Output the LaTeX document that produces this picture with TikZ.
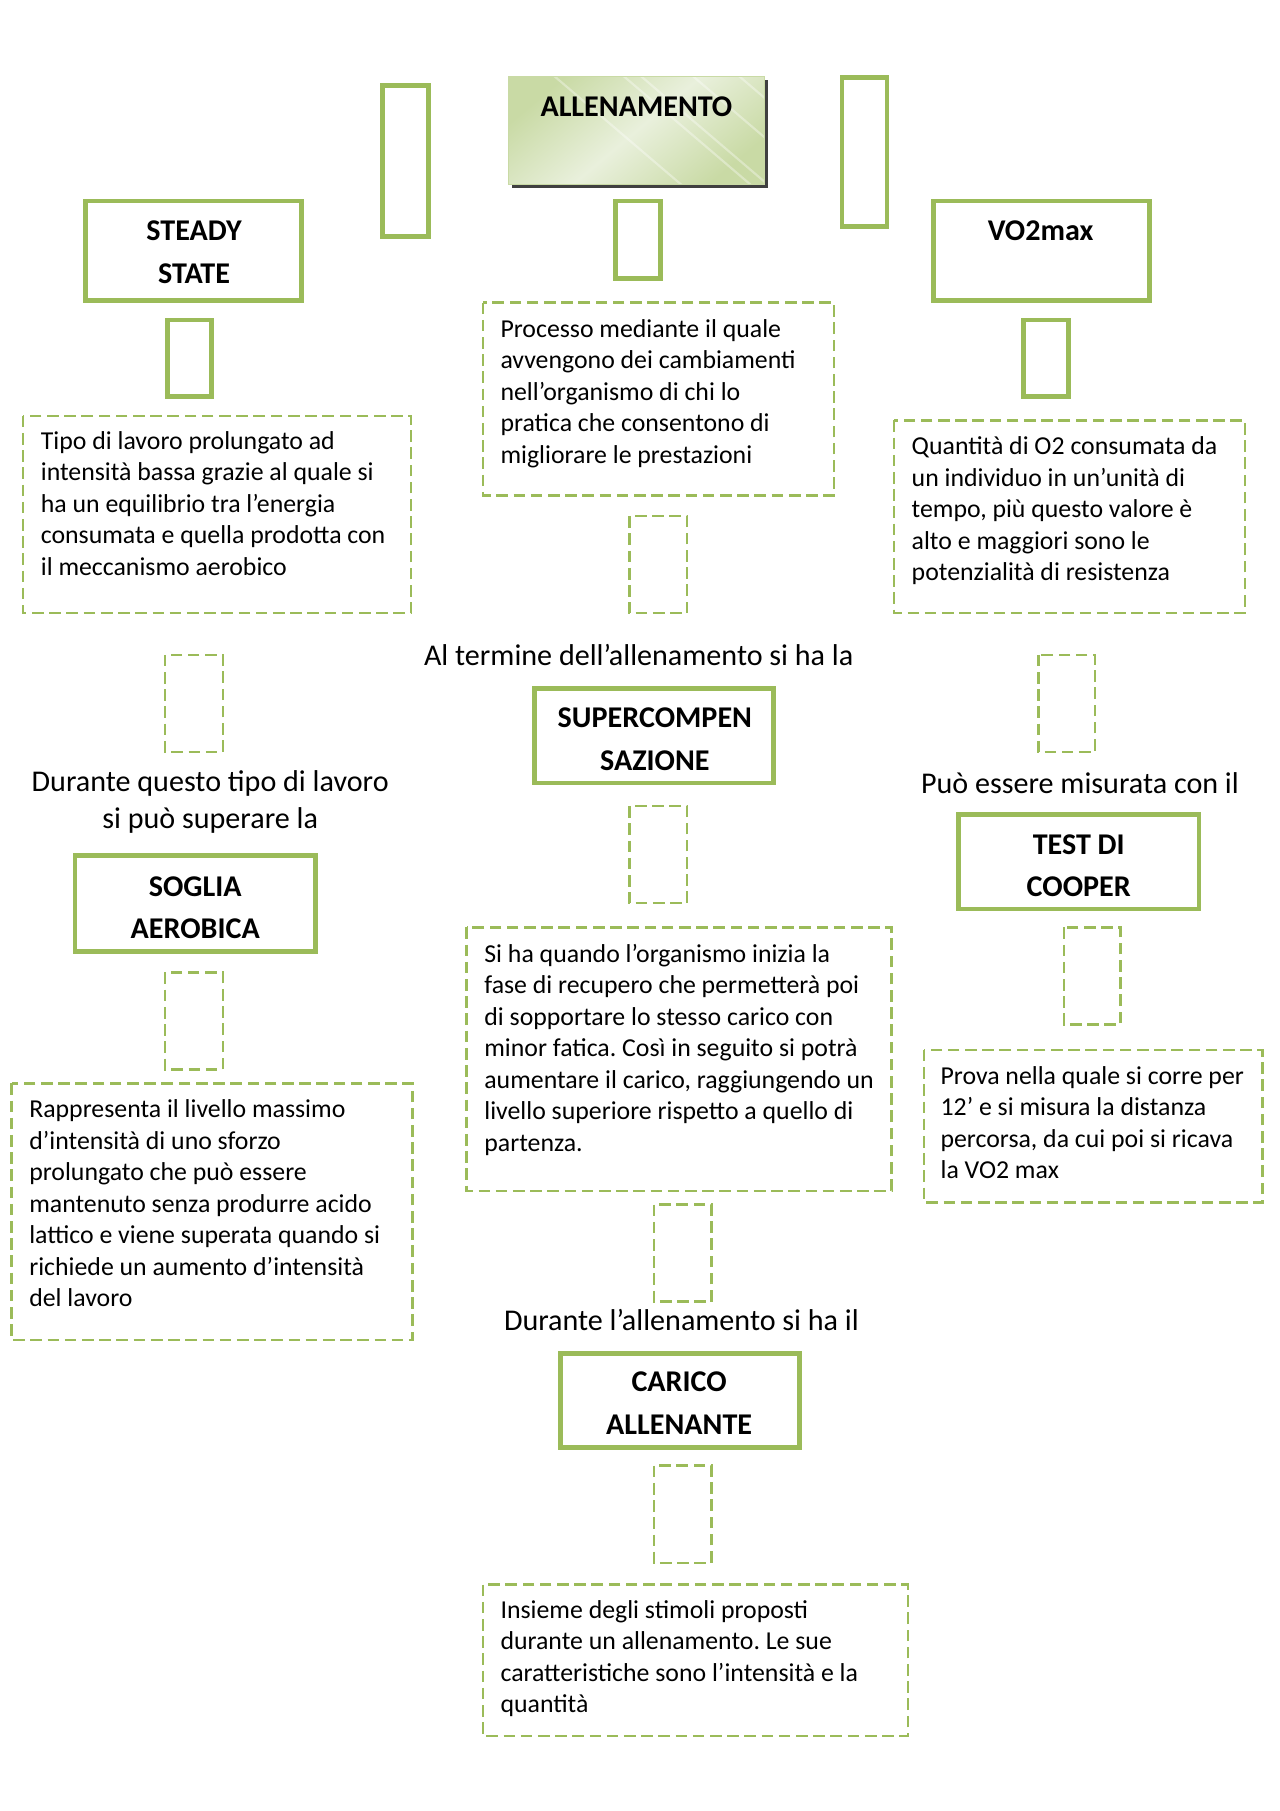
\documentclass[tikz,border=0pt]{standalone}
\usepackage{fontspec}
\setmainfont{Carlito}
\frenchspacing
\definecolor{olivegreen}{HTML}{9BBB59}
\definecolor{allA}{HTML}{C9DAA5}
\definecolor{allB}{HTML}{E9F0DC}
\begin{document}
\begin{tikzpicture}[x=0.537pt,y=-0.537pt,
  solidbox/.style={draw=olivegreen,line width=2.2pt},
  dashbox/.style={draw=olivegreen,line width=1.1pt,dash pattern=on 5.4pt off 2.6pt},
  headtext/.style={font=\fontsize{14}{19.9}\selectfont\bfseries,align=center,inner sep=0pt},
  labeltext/.style={font=\fontsize{14}{17.2}\selectfont,align=center,inner sep=0pt},
  bodytext/.style={font=\fontsize{12}{14.65}\selectfont,align=left,inner sep=0pt,anchor=north west}]
\useasboundingbox (0,0) rectangle (1108,1568);
% top title box
\fill[black!75] (443,69) rectangle (665,163);
\shade[left color=allA,right color=allA,middle color=allB,shading angle=40] (440,66) rectangle (662,160);
\begin{scope}
\clip (440,66) rectangle (662,160);
\foreach \s in {480,540,555,600,640}
  \draw[white,opacity=0.35,line width=1pt] (\s,66) -- (\s+110,160);
\end{scope}
\draw[allA,line width=0.6pt] (440,66) rectangle (662,160);
\node[headtext] (allenamento) at (551,92) {ALLENAMENTO};
% empty boxes
\draw[solidbox] (331,74) rectangle (371,205);
\draw[solidbox] (533,174) rectangle (572,241);
\draw[solidbox] (729,67) rectangle (768,196);
\draw[solidbox] (145,277) rectangle (183,343);
\draw[solidbox] (886,277) rectangle (925,343);
\foreach \a/\b/\c/\d in {545/447/595/531,143/567/193/651,899/567/948/651,545/698/595/782,
  143/842/193/926,921/803/970/887,566/1043/616/1127,566/1269/616/1353}
  \draw[dashbox] (\a,\b) rectangle (\c,\d);
% concept boxes
\draw[solidbox] (74,174) rectangle (261,260);
\node[headtext] (steady) at (168,218.5) {STEADY\\STATE};
\draw[solidbox] (808,174) rectangle (995,260);
\node[headtext] (vomax) at (901,200) {VO2max};
\draw[solidbox] (463,596) rectangle (670,678);
\node[headtext] (super) at (567,640) {SUPERCOMPEN\\SAZIONE};
\draw[solidbox] (65,741) rectangle (273,824);
\node[headtext] (soglia) at (169,786) {SOGLIA\\AEROBICA};
\draw[solidbox] (830,705) rectangle (1038,787);
\node[headtext] (cooper) at (934,749.5) {TEST DI\\COOPER};
\draw[solidbox] (485,1172) rectangle (692,1253);
\node[headtext] (carico) at (588,1215) {CARICO\\ALLENANTE};
% linking sentences
\node[labeltext] (termine) at (553,567) {Al termine dell’allenamento si ha la};
\node[labeltext] (durante) at (182,694) {Durante questo tipo di lavoro\\si può superare la};
\node[labeltext] (misurata) at (935,678) {Può essere misurata con il};
\node[labeltext] (duranteall) at (590,1143) {Durante l’allenamento si ha il};
% definitions
\draw[dashbox] (418,262) rectangle (722,429);
\node[bodytext] (defall) at (433,276) {Processo mediante il quale\\avvengono dei cambiamenti\\nell’organismo di chi lo\\pratica che consentono di\\migliorare le prestazioni};
\draw[dashbox] (20,360) rectangle (356,531);
\node[bodytext] (defsteady) at (35,373) {Tipo di lavoro prolungato ad\\intensità bassa grazie al quale si\\ha un equilibrio tra l’energia\\consumata e quella prodotta con\\il meccanismo aerobico};
\draw[dashbox] (774,364) rectangle (1078,531);
\node[bodytext] (defvomax) at (789,378) {Quantità di O2 consumata da\\un individuo in un’unità di\\tempo, più questo valore è\\alto e maggiori sono le\\potenzialità di resistenza};
\draw[dashbox] (404,803) rectangle (772,1031);
\node[bodytext] (defsuper) at (419,817) {Si ha quando l’organismo inizia la\\fase di recupero che permetterà poi\\di sopportare lo stesso carico con\\minor fatica. Così in seguito si potrà\\aumentare il carico, raggiungendo un\\livello superiore rispetto a quello di\\partenza.};
\draw[dashbox] (800,909) rectangle (1093,1041);
\node[bodytext] (defcooper) at (814,923) {Prova nella quale si corre per\\12’ e si misura la distanza\\percorsa, da cui poi si ricava\\la VO2 max};
\draw[dashbox] (10,938) rectangle (357,1160);
\node[bodytext] (defsoglia) at (25,952) {Rappresenta il livello massimo\\d’intensità di uno sforzo\\prolungato che può essere\\mantenuto senza produrre acido\\lattico e viene superata quando si\\richiede un aumento d’intensità\\del lavoro};
\draw[dashbox] (418,1372) rectangle (786,1503);
\node[bodytext] (defcarico) at (433,1385) {Insieme degli stimoli proposti\\durante un allenamento. Le sue\\caratteristiche sono l’intensità e la\\quantità};
\end{tikzpicture}
\end{document}
